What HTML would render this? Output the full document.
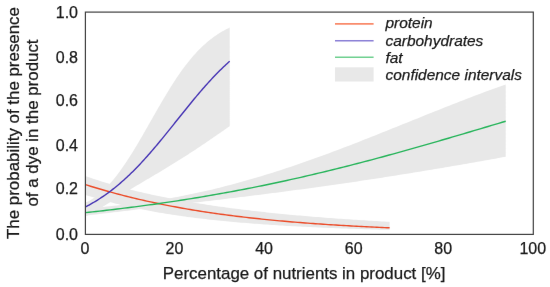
<!DOCTYPE html>
<html><head><meta charset="utf-8"><title>chart</title>
<style>html,body{margin:0;padding:0;background:#fff;width:550px;height:287px;overflow:hidden}
svg{display:block;font-family:"Liberation Sans",Arial,sans-serif;fill:#1a1a1a;}
text{fill:#1a1a1a;stroke:#1a1a1a;stroke-width:0.25px}</style></head>
<body>
<svg width="550" height="287" viewBox="0 0 550 287">
<defs><filter id="bl" x="0" y="0" width="1" height="1" color-interpolation-filters="sRGB"><feConvolveMatrix order="3" kernelMatrix="0.0009 0.0278 0.0009 0.0278 0.8855 0.0278 0.0009 0.0278 0.0009" edgeMode="duplicate" preserveAlpha="true"/></filter></defs><g filter="url(#bl)">
<rect width="550" height="287" fill="#fff"/>
<path d="M85.40,176.04 L87.96,176.94 L90.51,177.82 L93.07,178.68 L95.63,179.53 L98.18,180.37 L100.74,181.19 L103.29,181.99 L105.85,182.78 L108.41,183.55 L110.96,184.31 L113.52,185.05 L116.08,185.78 L118.63,186.50 L121.19,187.20 L123.75,187.89 L126.30,188.56 L128.86,189.23 L131.42,189.88 L133.97,190.52 L136.53,191.15 L139.08,191.76 L141.64,192.37 L144.20,192.96 L146.75,193.54 L149.31,194.12 L151.87,194.68 L154.42,195.23 L156.98,195.77 L159.54,196.31 L162.09,196.83 L164.65,197.35 L167.21,197.85 L169.76,198.35 L172.32,198.84 L174.87,199.32 L177.43,199.79 L179.99,200.26 L182.54,200.71 L185.10,201.16 L187.66,201.61 L190.21,202.04 L192.77,202.47 L195.33,202.89 L197.88,203.30 L200.44,203.71 L203.00,204.11 L205.55,204.51 L208.11,204.90 L210.66,205.28 L213.22,205.66 L215.78,206.03 L218.33,206.39 L220.89,206.75 L223.45,207.11 L226.00,207.46 L228.56,207.80 L231.12,208.14 L233.67,208.47 L236.23,208.80 L238.79,209.12 L241.34,209.44 L243.90,209.76 L246.45,210.06 L249.01,210.37 L251.57,210.67 L254.12,210.96 L256.68,211.26 L259.24,211.54 L261.79,211.83 L264.35,212.10 L266.91,212.38 L269.46,212.65 L272.02,212.92 L274.57,213.18 L277.13,213.44 L279.69,213.69 L282.24,213.94 L284.80,214.19 L287.36,214.44 L289.91,214.68 L292.47,214.91 L295.03,215.15 L297.58,215.38 L300.14,215.61 L302.70,215.83 L305.25,216.05 L307.81,216.27 L310.36,216.48 L312.92,216.69 L315.48,216.90 L318.03,217.11 L320.59,217.31 L323.15,217.51 L325.70,217.71 L328.26,217.90 L330.82,218.09 L333.37,218.28 L335.93,218.47 L338.49,218.65 L341.04,218.84 L343.60,219.01 L346.15,219.19 L348.71,219.36 L351.27,219.54 L353.82,219.70 L356.38,219.87 L358.94,220.04 L361.49,220.20 L364.05,220.36 L366.61,220.52 L369.16,220.67 L371.72,220.82 L374.28,220.98 L376.83,221.12 L379.39,221.27 L381.94,221.42 L384.50,221.56 L387.06,221.70 L389.61,221.84 L389.61,229.92 L387.06,229.86 L384.50,229.79 L381.94,229.72 L379.39,229.65 L376.83,229.58 L374.28,229.51 L371.72,229.43 L369.16,229.36 L366.61,229.28 L364.05,229.20 L361.49,229.12 L358.94,229.04 L356.38,228.95 L353.82,228.87 L351.27,228.78 L348.71,228.69 L346.15,228.60 L343.60,228.51 L341.04,228.41 L338.49,228.31 L335.93,228.22 L333.37,228.11 L330.82,228.01 L328.26,227.91 L325.70,227.80 L323.15,227.69 L320.59,227.58 L318.03,227.46 L315.48,227.35 L312.92,227.23 L310.36,227.11 L307.81,226.98 L305.25,226.85 L302.70,226.73 L300.14,226.59 L297.58,226.46 L295.03,226.32 L292.47,226.18 L289.91,226.04 L287.36,225.89 L284.80,225.74 L282.24,225.59 L279.69,225.43 L277.13,225.27 L274.57,225.11 L272.02,224.94 L269.46,224.77 L266.91,224.60 L264.35,224.42 L261.79,224.24 L259.24,224.06 L256.68,223.87 L254.12,223.68 L251.57,223.48 L249.01,223.28 L246.45,223.07 L243.90,222.86 L241.34,222.65 L238.79,222.43 L236.23,222.20 L233.67,221.98 L231.12,221.74 L228.56,221.50 L226.00,221.26 L223.45,221.01 L220.89,220.76 L218.33,220.50 L215.78,220.23 L213.22,219.96 L210.66,219.68 L208.11,219.40 L205.55,219.11 L203.00,218.81 L200.44,218.51 L197.88,218.20 L195.33,217.88 L192.77,217.56 L190.21,217.23 L187.66,216.89 L185.10,216.54 L182.54,216.19 L179.99,215.83 L177.43,215.46 L174.87,215.09 L172.32,214.70 L169.76,214.31 L167.21,213.90 L164.65,213.49 L162.09,213.07 L159.54,212.64 L156.98,212.20 L154.42,211.75 L151.87,211.29 L149.31,210.82 L146.75,210.34 L144.20,209.85 L141.64,209.35 L139.08,208.84 L136.53,208.31 L133.97,207.77 L131.42,207.22 L128.86,206.66 L126.30,206.09 L123.75,205.50 L121.19,204.90 L118.63,204.29 L116.08,203.66 L113.52,203.02 L110.96,202.36 L108.41,201.69 L105.85,201.00 L103.29,200.30 L100.74,199.58 L98.18,198.84 L95.63,198.09 L93.07,197.32 L90.51,196.53 L87.96,195.73 L85.40,194.90 Z" fill="#e8e8e8" fill-opacity="1" stroke="none"/>
<path d="M85.40,202.66 L86.61,202.10 L87.83,201.52 L89.04,200.90 L90.25,200.25 L91.46,199.57 L92.68,198.84 L93.89,198.08 L95.10,197.27 L96.31,196.41 L97.53,195.51 L98.74,194.56 L99.95,193.57 L101.17,192.53 L102.38,191.44 L103.59,190.31 L104.80,189.13 L106.02,187.91 L107.23,186.65 L108.44,185.35 L109.65,184.00 L110.87,182.62 L112.08,181.20 L113.29,179.75 L114.51,178.25 L115.72,176.72 L116.93,175.16 L118.14,173.56 L119.36,171.92 L120.57,170.26 L121.78,168.56 L122.99,166.83 L124.21,165.07 L125.42,163.28 L126.63,161.46 L127.85,159.61 L129.06,157.74 L130.27,155.84 L131.48,153.91 L132.70,151.97 L133.91,150.00 L135.12,148.00 L136.33,145.99 L137.55,143.96 L138.76,141.92 L139.97,139.85 L141.19,137.78 L142.40,135.69 L143.61,133.59 L144.82,131.48 L146.04,129.36 L147.25,127.23 L148.46,125.10 L149.67,122.97 L150.89,120.83 L152.10,118.70 L153.31,116.56 L154.52,114.43 L155.74,112.31 L156.95,110.19 L158.16,108.08 L159.38,105.97 L160.59,103.88 L161.80,101.80 L163.01,99.74 L164.23,97.69 L165.44,95.66 L166.65,93.65 L167.86,91.65 L169.08,89.68 L170.29,87.72 L171.50,85.79 L172.72,83.89 L173.93,82.01 L175.14,80.15 L176.35,78.33 L177.57,76.53 L178.78,74.75 L179.99,73.01 L181.20,71.30 L182.42,69.61 L183.63,67.96 L184.84,66.34 L186.06,64.75 L187.27,63.19 L188.48,61.66 L189.69,60.17 L190.91,58.70 L192.12,57.27 L193.33,55.87 L194.54,54.51 L195.76,53.17 L196.97,51.87 L198.18,50.60 L199.40,49.36 L200.61,48.15 L201.82,46.98 L203.03,45.83 L204.25,44.72 L205.46,43.63 L206.67,42.58 L207.88,41.55 L209.10,40.56 L210.31,39.59 L211.52,38.65 L212.74,37.73 L213.95,36.85 L215.16,35.99 L216.37,35.15 L217.59,34.35 L218.80,33.56 L220.01,32.80 L221.22,32.07 L222.44,31.36 L223.65,30.67 L224.86,30.00 L226.08,29.36 L227.29,28.73 L228.50,28.13 L229.71,27.55 L229.71,126.16 L228.50,127.01 L227.29,127.86 L226.08,128.71 L224.86,129.56 L223.65,130.40 L222.44,131.25 L221.22,132.09 L220.01,132.93 L218.80,133.78 L217.59,134.61 L216.37,135.45 L215.16,136.29 L213.95,137.12 L212.74,137.95 L211.52,138.78 L210.31,139.61 L209.10,140.44 L207.88,141.26 L206.67,142.09 L205.46,142.91 L204.25,143.72 L203.03,144.54 L201.82,145.35 L200.61,146.16 L199.40,146.97 L198.18,147.78 L196.97,148.58 L195.76,149.38 L194.54,150.18 L193.33,150.98 L192.12,151.77 L190.91,152.56 L189.69,153.35 L188.48,154.13 L187.27,154.92 L186.06,155.70 L184.84,156.47 L183.63,157.25 L182.42,158.02 L181.20,158.79 L179.99,159.55 L178.78,160.32 L177.57,161.08 L176.35,161.84 L175.14,162.59 L173.93,163.34 L172.72,164.09 L171.50,164.84 L170.29,165.59 L169.08,166.33 L167.86,167.07 L166.65,167.81 L165.44,168.54 L164.23,169.28 L163.01,170.01 L161.80,170.74 L160.59,171.46 L159.38,172.19 L158.16,172.91 L156.95,173.64 L155.74,174.36 L154.52,175.07 L153.31,175.79 L152.10,176.51 L150.89,177.23 L149.67,177.94 L148.46,178.66 L147.25,179.37 L146.04,180.09 L144.82,180.80 L143.61,181.52 L142.40,182.23 L141.19,182.95 L139.97,183.67 L138.76,184.39 L137.55,185.11 L136.33,185.83 L135.12,186.55 L133.91,187.28 L132.70,188.01 L131.48,188.74 L130.27,189.48 L129.06,190.22 L127.85,190.96 L126.63,191.70 L125.42,192.45 L124.21,193.20 L122.99,193.96 L121.78,194.72 L120.57,195.48 L119.36,196.25 L118.14,197.02 L116.93,197.79 L115.72,198.56 L114.51,199.33 L113.29,200.11 L112.08,200.88 L110.87,201.66 L109.65,202.43 L108.44,203.20 L107.23,203.97 L106.02,204.73 L104.80,205.49 L103.59,206.24 L102.38,206.99 L101.17,207.72 L99.95,208.45 L98.74,209.17 L97.53,209.88 L96.31,210.58 L95.10,211.27 L93.89,211.95 L92.68,212.62 L91.46,213.27 L90.25,213.91 L89.04,214.54 L87.83,215.15 L86.61,215.75 L85.40,216.34 Z" fill="#e8e8e8" fill-opacity="1" stroke="none"/>
<path d="M85.40,208.61 L88.93,208.29 L92.46,207.97 L96.00,207.64 L99.53,207.30 L103.06,206.95 L106.59,206.60 L110.12,206.24 L113.66,205.87 L117.19,205.48 L120.72,205.09 L124.25,204.69 L127.78,204.28 L131.32,203.85 L134.85,203.42 L138.38,202.96 L141.91,202.50 L145.44,202.01 L148.98,201.52 L152.51,201.00 L156.04,200.47 L159.57,199.92 L163.10,199.35 L166.64,198.76 L170.17,198.16 L173.70,197.53 L177.23,196.88 L180.76,196.22 L184.30,195.53 L187.83,194.83 L191.36,194.11 L194.89,193.37 L198.42,192.61 L201.96,191.83 L205.49,191.03 L209.02,190.21 L212.55,189.38 L216.08,188.53 L219.62,187.66 L223.15,186.77 L226.68,185.87 L230.21,184.95 L233.74,184.01 L237.28,183.06 L240.81,182.09 L244.34,181.11 L247.87,180.10 L251.40,179.09 L254.94,178.05 L258.47,177.01 L262.00,175.94 L265.53,174.86 L269.06,173.77 L272.60,172.66 L276.13,171.54 L279.66,170.40 L283.19,169.25 L286.72,168.09 L290.26,166.91 L293.79,165.72 L297.32,164.52 L300.85,163.30 L304.38,162.08 L307.92,160.84 L311.45,159.58 L314.98,158.32 L318.51,157.04 L322.04,155.76 L325.58,154.46 L329.11,153.16 L332.64,151.84 L336.17,150.52 L339.70,149.18 L343.24,147.84 L346.77,146.49 L350.30,145.13 L353.83,143.76 L357.36,142.39 L360.90,141.01 L364.43,139.62 L367.96,138.23 L371.49,136.83 L375.02,135.43 L378.56,134.02 L382.09,132.61 L385.62,131.19 L389.15,129.78 L392.68,128.36 L396.22,126.93 L399.75,125.51 L403.28,124.09 L406.81,122.66 L410.35,121.24 L413.88,119.81 L417.41,118.39 L420.94,116.96 L424.47,115.54 L428.01,114.12 L431.54,112.71 L435.07,111.30 L438.60,109.89 L442.13,108.48 L445.67,107.08 L449.20,105.69 L452.73,104.30 L456.26,102.91 L459.79,101.54 L463.33,100.17 L466.86,98.80 L470.39,97.45 L473.92,96.10 L477.45,94.76 L480.99,93.43 L484.52,92.11 L488.05,90.79 L491.58,89.49 L495.11,88.20 L498.65,86.91 L502.18,85.64 L505.71,84.38 L505.71,156.70 L502.18,157.34 L498.65,157.99 L495.11,158.63 L491.58,159.26 L488.05,159.90 L484.52,160.53 L480.99,161.16 L477.45,161.78 L473.92,162.41 L470.39,163.03 L466.86,163.65 L463.33,164.27 L459.79,164.88 L456.26,165.49 L452.73,166.10 L449.20,166.70 L445.67,167.30 L442.13,167.90 L438.60,168.50 L435.07,169.09 L431.54,169.68 L428.01,170.27 L424.47,170.86 L420.94,171.44 L417.41,172.02 L413.88,172.59 L410.35,173.17 L406.81,173.74 L403.28,174.30 L399.75,174.87 L396.22,175.43 L392.68,175.98 L389.15,176.54 L385.62,177.09 L382.09,177.64 L378.56,178.18 L375.02,178.73 L371.49,179.26 L367.96,179.80 L364.43,180.33 L360.90,180.86 L357.36,181.39 L353.83,181.91 L350.30,182.43 L346.77,182.95 L343.24,183.46 L339.70,183.97 L336.17,184.48 L332.64,184.98 L329.11,185.48 L325.58,185.98 L322.04,186.48 L318.51,186.97 L314.98,187.46 L311.45,187.94 L307.92,188.42 L304.38,188.90 L300.85,189.38 L297.32,189.86 L293.79,190.33 L290.26,190.79 L286.72,191.26 L283.19,191.72 L279.66,192.18 L276.13,192.64 L272.60,193.09 L269.06,193.54 L265.53,193.99 L262.00,194.44 L258.47,194.88 L254.94,195.32 L251.40,195.76 L247.87,196.20 L244.34,196.64 L240.81,197.07 L237.28,197.50 L233.74,197.93 L230.21,198.36 L226.68,198.78 L223.15,199.20 L219.62,199.63 L216.08,200.05 L212.55,200.47 L209.02,200.89 L205.49,201.31 L201.96,201.72 L198.42,202.14 L194.89,202.56 L191.36,202.98 L187.83,203.39 L184.30,203.81 L180.76,204.23 L177.23,204.65 L173.70,205.07 L170.17,205.49 L166.64,205.91 L163.10,206.33 L159.57,206.76 L156.04,207.18 L152.51,207.61 L148.98,208.04 L145.44,208.47 L141.91,208.90 L138.38,209.33 L134.85,209.76 L131.32,210.20 L127.78,210.63 L124.25,211.06 L120.72,211.49 L117.19,211.92 L113.66,212.34 L110.12,212.77 L106.59,213.19 L103.06,213.60 L99.53,214.02 L96.00,214.43 L92.46,214.83 L88.93,215.24 L85.40,215.63 Z" fill="#e8e8e8" fill-opacity="1" stroke="none"/>
<path d="M85.40,184.62 L87.96,185.42 L90.51,186.21 L93.07,187.00 L95.63,187.77 L98.18,188.53 L100.74,189.28 L103.29,190.02 L105.85,190.74 L108.41,191.46 L110.96,192.17 L113.52,192.87 L116.08,193.56 L118.63,194.24 L121.19,194.91 L123.75,195.56 L126.30,196.21 L128.86,196.85 L131.42,197.48 L133.97,198.10 L136.53,198.71 L139.08,199.31 L141.64,199.90 L144.20,200.49 L146.75,201.06 L149.31,201.63 L151.87,202.18 L154.42,202.73 L156.98,203.27 L159.54,203.80 L162.09,204.32 L164.65,204.83 L167.21,205.34 L169.76,205.83 L172.32,206.32 L174.87,206.80 L177.43,207.27 L179.99,207.74 L182.54,208.20 L185.10,208.64 L187.66,209.09 L190.21,209.52 L192.77,209.95 L195.33,210.37 L197.88,210.78 L200.44,211.19 L203.00,211.59 L205.55,211.98 L208.11,212.37 L210.66,212.74 L213.22,213.12 L215.78,213.48 L218.33,213.84 L220.89,214.20 L223.45,214.54 L226.00,214.89 L228.56,215.22 L231.12,215.55 L233.67,215.88 L236.23,216.19 L238.79,216.51 L241.34,216.81 L243.90,217.12 L246.45,217.41 L249.01,217.71 L251.57,217.99 L254.12,218.27 L256.68,218.55 L259.24,218.82 L261.79,219.09 L264.35,219.35 L266.91,219.61 L269.46,219.86 L272.02,220.11 L274.57,220.35 L277.13,220.59 L279.69,220.83 L282.24,221.06 L284.80,221.29 L287.36,221.51 L289.91,221.73 L292.47,221.94 L295.03,222.15 L297.58,222.36 L300.14,222.57 L302.70,222.77 L305.25,222.96 L307.81,223.16 L310.36,223.35 L312.92,223.53 L315.48,223.71 L318.03,223.89 L320.59,224.07 L323.15,224.24 L325.70,224.41 L328.26,224.58 L330.82,224.75 L333.37,224.91 L335.93,225.07 L338.49,225.22 L341.04,225.37 L343.60,225.52 L346.15,225.67 L348.71,225.82 L351.27,225.96 L353.82,226.10 L356.38,226.24 L358.94,226.37 L361.49,226.50 L364.05,226.63 L366.61,226.76 L369.16,226.88 L371.72,227.01 L374.28,227.13 L376.83,227.25 L379.39,227.36 L381.94,227.48 L384.50,227.59 L387.06,227.70 L389.61,227.81" fill="none" stroke="#eb4b28" stroke-width="1.4" stroke-linecap="butt" stroke-linejoin="round"/>
<path d="M85.40,206.96 L86.61,206.32 L87.83,205.68 L89.04,205.02 L90.25,204.35 L91.46,203.67 L92.68,202.97 L93.89,202.26 L95.10,201.53 L96.31,200.80 L97.53,200.04 L98.74,199.28 L99.95,198.49 L101.17,197.70 L102.38,196.89 L103.59,196.06 L104.80,195.22 L106.02,194.36 L107.23,193.49 L108.44,192.61 L109.65,191.71 L110.87,190.79 L112.08,189.86 L113.29,188.91 L114.51,187.95 L115.72,186.97 L116.93,185.97 L118.14,184.96 L119.36,183.94 L120.57,182.90 L121.78,181.84 L122.99,180.77 L124.21,179.68 L125.42,178.58 L126.63,177.46 L127.85,176.32 L129.06,175.17 L130.27,174.01 L131.48,172.83 L132.70,171.63 L133.91,170.42 L135.12,169.20 L136.33,167.96 L137.55,166.71 L138.76,165.44 L139.97,164.16 L141.19,162.87 L142.40,161.56 L143.61,160.24 L144.82,158.90 L146.04,157.56 L147.25,156.20 L148.46,154.83 L149.67,153.45 L150.89,152.06 L152.10,150.65 L153.31,149.24 L154.52,147.82 L155.74,146.38 L156.95,144.94 L158.16,143.49 L159.38,142.03 L160.59,140.57 L161.80,139.09 L163.01,137.61 L164.23,136.13 L165.44,134.64 L166.65,133.14 L167.86,131.64 L169.08,130.13 L170.29,128.62 L171.50,127.11 L172.72,125.60 L173.93,124.08 L175.14,122.56 L176.35,121.04 L177.57,119.52 L178.78,118.01 L179.99,116.49 L181.20,114.97 L182.42,113.46 L183.63,111.95 L184.84,110.44 L186.06,108.94 L187.27,107.44 L188.48,105.94 L189.69,104.45 L190.91,102.97 L192.12,101.49 L193.33,100.02 L194.54,98.56 L195.76,97.10 L196.97,95.66 L198.18,94.22 L199.40,92.79 L200.61,91.38 L201.82,89.97 L203.03,88.57 L204.25,87.19 L205.46,85.81 L206.67,84.45 L207.88,83.10 L209.10,81.76 L210.31,80.44 L211.52,79.13 L212.74,77.83 L213.95,76.55 L215.16,75.28 L216.37,74.02 L217.59,72.78 L218.80,71.56 L220.01,70.34 L221.22,69.15 L222.44,67.97 L223.65,66.81 L224.86,65.66 L226.08,64.52 L227.29,63.41 L228.50,62.31 L229.71,61.22" fill="none" stroke="#4634b4" stroke-width="1.4" stroke-linecap="butt" stroke-linejoin="round"/>
<path d="M85.40,212.63 L88.93,212.25 L92.46,211.87 L96.00,211.48 L99.53,211.09 L103.06,210.69 L106.59,210.28 L110.12,209.87 L113.66,209.45 L117.19,209.03 L120.72,208.60 L124.25,208.16 L127.78,207.72 L131.32,207.27 L134.85,206.82 L138.38,206.35 L141.91,205.89 L145.44,205.41 L148.98,204.93 L152.51,204.44 L156.04,203.94 L159.57,203.44 L163.10,202.93 L166.64,202.42 L170.17,201.89 L173.70,201.36 L177.23,200.83 L180.76,200.28 L184.30,199.73 L187.83,199.17 L191.36,198.60 L194.89,198.03 L198.42,197.45 L201.96,196.86 L205.49,196.27 L209.02,195.66 L212.55,195.05 L216.08,194.43 L219.62,193.81 L223.15,193.17 L226.68,192.53 L230.21,191.88 L233.74,191.23 L237.28,190.56 L240.81,189.89 L244.34,189.21 L247.87,188.53 L251.40,187.83 L254.94,187.13 L258.47,186.42 L262.00,185.70 L265.53,184.98 L269.06,184.24 L272.60,183.50 L276.13,182.76 L279.66,182.00 L283.19,181.24 L286.72,180.47 L290.26,179.69 L293.79,178.90 L297.32,178.11 L300.85,177.31 L304.38,176.50 L307.92,175.68 L311.45,174.86 L314.98,174.03 L318.51,173.19 L322.04,172.35 L325.58,171.50 L329.11,170.64 L332.64,169.77 L336.17,168.90 L339.70,168.02 L343.24,167.13 L346.77,166.24 L350.30,165.34 L353.83,164.44 L357.36,163.52 L360.90,162.61 L364.43,161.68 L367.96,160.75 L371.49,159.81 L375.02,158.87 L378.56,157.92 L382.09,156.97 L385.62,156.01 L389.15,155.05 L392.68,154.08 L396.22,153.10 L399.75,152.12 L403.28,151.14 L406.81,150.15 L410.35,149.16 L413.88,148.16 L417.41,147.16 L420.94,146.15 L424.47,145.14 L428.01,144.13 L431.54,143.11 L435.07,142.09 L438.60,141.06 L442.13,140.04 L445.67,139.01 L449.20,137.97 L452.73,136.94 L456.26,135.90 L459.79,134.86 L463.33,133.82 L466.86,132.77 L470.39,131.73 L473.92,130.68 L477.45,129.63 L480.99,128.58 L484.52,127.53 L488.05,126.48 L491.58,125.43 L495.11,124.38 L498.65,123.32 L502.18,122.27 L505.71,121.22" fill="none" stroke="#26b45a" stroke-width="1.4" stroke-linecap="butt" stroke-linejoin="round"/>
<rect x="85.4" y="12.1" width="447.9" height="222.3" fill="none" stroke="#404040" stroke-width="1.2"/>
<text x="78" y="240.00" text-anchor="end" font-size="16">0.0</text>
<text x="78" y="194.14" text-anchor="end" font-size="16">0.2</text>
<text x="78" y="151.08" text-anchor="end" font-size="16">0.4</text>
<text x="78" y="106.22" text-anchor="end" font-size="16">0.6</text>
<text x="78" y="62.56" text-anchor="end" font-size="16">0.8</text>
<text x="78" y="17.70" text-anchor="end" font-size="16">1.0</text>
<text x="84.90" y="254.4" text-anchor="middle" font-size="16">0</text>
<text x="174.48" y="254.4" text-anchor="middle" font-size="16">20</text>
<text x="264.06" y="254.4" text-anchor="middle" font-size="16">40</text>
<text x="353.64" y="254.4" text-anchor="middle" font-size="16">60</text>
<text x="443.22" y="254.4" text-anchor="middle" font-size="16">80</text>
<text x="532.80" y="254.4" text-anchor="middle" font-size="16">100</text>
<text x="304.1" y="279.2" text-anchor="middle" font-size="16.9">Percentage of nutrients in product [%]</text>
<text transform="translate(18.6,123) rotate(-90)" text-anchor="middle" font-size="16.9">The probability of the presence</text>
<text transform="translate(37.6,123) rotate(-90)" text-anchor="middle" font-size="16.9">of a dye in the product</text>
<line x1="335" y1="23.9" x2="373.6" y2="23.9" stroke="#f98a6a" stroke-width="1.6"/>
<line x1="335" y1="40.8" x2="373.6" y2="40.8" stroke="#8a7fd6" stroke-width="1.6"/>
<line x1="335" y1="57.2" x2="373.6" y2="57.2" stroke="#6fd08f" stroke-width="1.6"/>
<rect x="335" y="67.3" width="38.60000000000002" height="14.200000000000003" fill="#e8e8e8"/>
<text x="385.5" y="28.3" font-size="15.45" font-style="italic">protein</text>
<text x="385.5" y="45.6" font-size="15.45" font-style="italic">carbohydrates</text>
<text x="385.5" y="63.0" font-size="15.45" font-style="italic">fat</text>
<text x="385.5" y="80.4" font-size="15.45" font-style="italic">confidence intervals</text>
</g>
</svg>
</body></html>
